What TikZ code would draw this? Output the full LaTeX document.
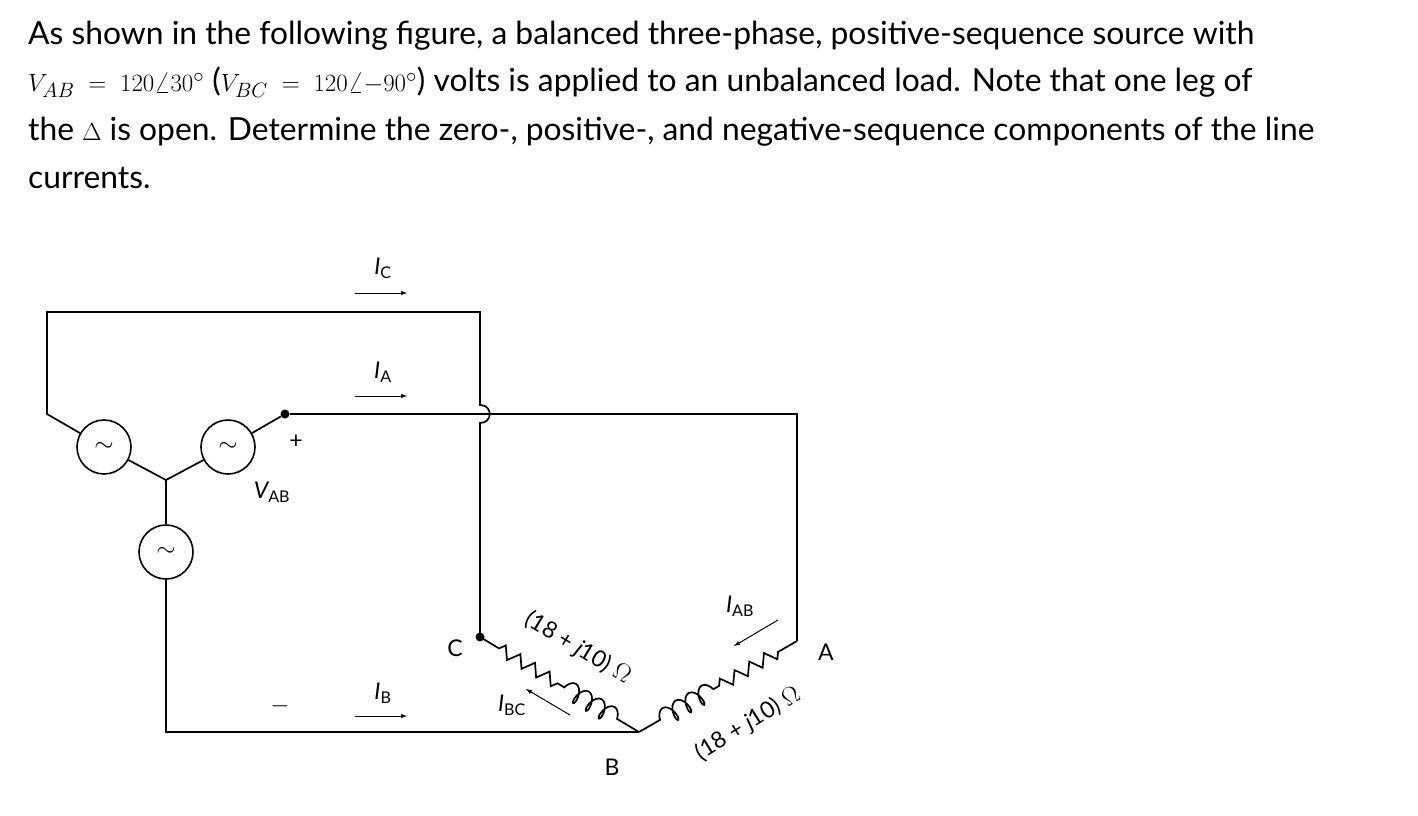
\documentclass[tikz,border=0pt]{standalone}
\usepackage{fontspec}
\setmainfont{Lato}
\usetikzlibrary{decorations.pathmorphing,calc}
\begin{document}
\begin{tikzpicture}[x=1pt,y=-1pt,
  wire/.style={line width=1.7pt},
  src/.style={circle,draw,line width=1.6pt,minimum size=54pt,inner sep=0pt,font=\fontsize{28}{28}\selectfont},
  lbl/.style={font=\fontsize{23}{23}\selectfont\itshape,inner sep=0pt},
  plain/.style={font=\fontsize{23}{23}\selectfont,inner sep=0pt},
  cur/.style={-latex,line width=1pt},
  dot/.style={circle,fill,inner sep=0pt,minimum size=9pt},
  txt/.style={anchor=base west,inner sep=0pt,font=\fontsize{31.8}{32}\selectfont}]
\useasboundingbox (0,0) rectangle (1418,816);
% text
\node[txt] (t1) at (28,45) {As shown in the following figure, a balanced three-phase, positive-sequence source with};
\node[txt] (t2) at (28,92) {$V_{AB}\;=\;120\angle 30^\circ$ ($V_{BC}\;=\;120\angle{-90}^\circ$) volts is applied to an unbalanced load. Note that one leg of};
\node[txt] (t3) at (28,140) {the $\Delta$ is open. Determine the zero-, positive-, and negative-sequence components of the line};
\node[txt] (t4) at (28,188) {currents.};
% sources
\node[src] (s1) at (104,447) {$\sim$};
\node[src] (s2) at (228,447) {$\sim$};
\node[src] (s3) at (166,552) {$\sim$};
\coordinate (n) at (166,480);
\draw[wire] (s1) -- (n) -- (s2);
\draw[wire] (n) -- (s3);
\node[dot] (da) at (285,414) {};
\draw[wire] (s2) -- (da);
\coordinate (tl) at (47,414);
\draw[wire] (s1) -- (tl) -- (47,312) -- (480,312) -- (480,405) .. controls (493,405) and (493,423) .. (480,423) -- (480,637);
\node[dot] (C) at (480,637) {};
\coordinate (A) at (797,641);
\coordinate (B) at (639,732);
\draw[wire] (da) -- (797,414) -- (A);
\draw[wire] (s3) -- (166,732) -- (B);
% impedances
\draw[wire] (C.center) -- ($(C)!0.12!(B)$)
  decorate[decoration={zigzag,amplitude=6pt,segment length=17pt}]{ -- ($(C)!0.5!(B)$)}
  -- ($(C)!0.53!(B)$)
  decorate[decoration={coil,amplitude=9pt,segment length=15pt,aspect=0.5}]{ -- ($(C)!0.88!(B)$)} -- (B);
\draw[wire] (A) -- ($(A)!0.12!(B)$)
  decorate[decoration={zigzag,amplitude=6pt,segment length=17pt}]{ -- ($(A)!0.5!(B)$)}
  -- ($(A)!0.53!(B)$)
  decorate[decoration={coil,amplitude=9pt,segment length=15pt,aspect=0.5,mirror}]{ -- ($(A)!0.88!(B)$)} -- (B);
% labels
\node[lbl] (lc) at (383,268) {I\textsubscript{\upshape C}};
\coordinate (ic1) at (355,293); \coordinate (ic2) at (407,293);
\draw[cur] (ic1) -- (ic2);
\node[lbl] (la) at (383,372) {I\textsubscript{\upshape A}};
\coordinate (ia1) at (355,396); \coordinate (ia2) at (407,396);
\draw[cur] (ia1) -- (ia2);
\node[lbl] (lb) at (383,693) {I\textsubscript{\upshape B}};
\coordinate (ib1) at (355,716); \coordinate (ib2) at (407,716);
\draw[cur] (ib1) -- (ib2);
\node[plain] (plus) at (296,442) {+};
\node[plain] (minus) at (280,706) {$-$};
\node[lbl] (vab) at (272,492) {V\textsubscript{\upshape AB}};
\node[plain] (lC) at (455,648) {C};
\node[plain] (lA) at (826,652) {A};
\node[plain] (lB) at (612,767) {B};
\node[lbl] (iab) at (740,606) {I\textsubscript{\upshape AB}};
\coordinate (iab1) at (778,620); \coordinate (iab2) at (734,646);
\draw[cur] (iab1) -- (iab2);
\node[lbl] (ibc) at (512,705) {I\textsubscript{\upshape BC}};
\coordinate (ibc1) at (570,715); \coordinate (ibc2) at (526,689);
\draw[cur] (ibc1) -- (ibc2);
\node[plain,rotate=-31] (z1) at (578,648) {(18 + \textit{j}10) $\Omega$};
\node[plain,rotate=32] (z2) at (748,724) {(18 + \textit{j}10) $\Omega$};
\end{tikzpicture}
\end{document}
